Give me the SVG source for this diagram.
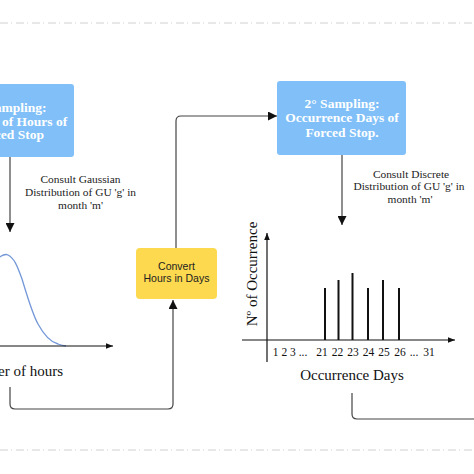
<svg xmlns="http://www.w3.org/2000/svg" width="474" height="474" viewBox="0 0 474 474">
<style>
.box{fill:#80bff8;}
.bt{font-family:"Liberation Serif",serif;font-weight:bold;font-size:13.5px;fill:#fff;text-anchor:middle;}
.lbl{font-family:"Liberation Serif",serif;font-size:11.4px;fill:#222;text-anchor:middle;}
.ax{font-family:"Liberation Serif",serif;font-size:15px;fill:#111;}
.tk{font-family:"Liberation Serif",serif;font-size:11.5px;fill:#111;text-anchor:middle;}
.con{fill:none;stroke:#444;stroke-width:1.2;}
.axl{stroke:#111;stroke-width:1.2;fill:none;}
.bar{stroke:#111;stroke-width:2;}
.dash{stroke:#d0d0d0;stroke-width:1;stroke-dasharray:8 3 1 4;fill:none;}
</style>
<defs>
<marker id="ah" viewBox="0 0 10 10" refX="10" refY="5" markerWidth="9" markerHeight="9" markerUnits="userSpaceOnUse" orient="auto">
<path d="M0,0 L10,5 L0,10 z" fill="#111"/>
</marker>
<marker id="ahs" viewBox="0 0 10 10" refX="10" refY="5" markerWidth="7" markerHeight="7" markerUnits="userSpaceOnUse" orient="auto">
<path d="M0,1 L10,5 L0,9 z" fill="#111"/>
</marker>
</defs>
<rect width="474" height="474" fill="#fff"/>
<g id="frame">
<line class="dash" x1="0" y1="23" x2="474" y2="23"/>
<line class="dash" x1="0" y1="450" x2="474" y2="450"/>
</g>
<g id="connectors">
<line class="con" x1="10" y1="157" x2="10" y2="232" marker-end="url(#ah)"/>
<line class="con" x1="342" y1="155" x2="342" y2="225" marker-end="url(#ah)"/>
<path class="con" d="M10,387 L10,404 Q10,409 15,409 L168,409 Q173,409 173,404 L173,300" marker-end="url(#ah)"/>
<path class="con" d="M176,248 L176,121 Q176,116 181,116 L277,116" marker-end="url(#ah)"/>
<path class="con" d="M352,393 L352,414 Q352,419 357,419 L474,419"/>
</g>
<g id="node-sampling1">
<rect class="box" x="-56" y="84" width="130" height="73" rx="3"/>
<text class="bt" x="9" y="112">1° Sampling:</text>
<text class="bt" x="9" y="125.5">Number of Hours of</text>
<text class="bt" x="9" y="139">Forced Stop</text>
</g>
<g id="label-gaussian">
<text class="lbl" x="80.5" y="182.5">Consult Gaussian</text>
<text class="lbl" x="80.5" y="195.5">Distribution of GU 'g' in</text>
<text class="lbl" x="80.5" y="208.5">month 'm'</text>
</g>
<g id="chart-gaussian">
<path d="M-2,258 C2,256 4,253 8,255 C14,258 17,265 22,279 C27,295 32,313 38,324 C44,335 50,342 58,344 C61,345 63,345.5 66,346" fill="none" stroke="#7397d8" stroke-width="1.3"/>
<line class="axl" x1="0" y1="346" x2="113" y2="346" marker-end="url(#ahs)"/>
<text class="ax" x="63" y="376" text-anchor="end">Number of hours</text>
</g>
<g id="node-convert">
<rect x="136" y="248" width="81" height="51" rx="4" fill="#fcd94e"/>
<text x="176.5" y="270" font-family="Liberation Sans,Arial,sans-serif" font-size="10.5" fill="#222" text-anchor="middle">Convert</text>
<text x="176.5" y="282" font-family="Liberation Sans,Arial,sans-serif" font-size="10.5" fill="#222" text-anchor="middle">Hours in Days</text>
</g>
<g id="node-sampling2">
<rect class="box" x="277" y="81" width="129" height="74" rx="3"/>
<text class="bt" x="342" y="107.5">2°  Sampling:</text>
<text class="bt" x="342" y="122">Occurrence Days of</text>
<text class="bt" x="342" y="136.5">Forced Stop.</text>
</g>
<g id="label-discrete">
<text class="lbl" x="411" y="177.5" font-size="10.8">Consult Discrete</text>
<text class="lbl" x="409" y="190" font-size="10.8">Distribution of GU 'g' in</text>
<text class="lbl" x="410" y="202.5" font-size="10.8">month 'm'</text>
</g>
<g id="chart-discrete">
<line class="axl" x1="267" y1="362" x2="267" y2="233" marker-end="url(#ahs)"/>
<line class="axl" x1="242" y1="340" x2="455" y2="340" marker-end="url(#ahs)"/>
<line class="bar" x1="325" y1="340" x2="325" y2="288"/>
<line class="bar" x1="338.5" y1="340" x2="338.5" y2="280"/>
<line class="bar" x1="352.5" y1="340" x2="352.5" y2="273"/>
<line class="bar" x1="368" y1="340" x2="368" y2="288"/>
<line class="bar" x1="383" y1="340" x2="383" y2="280"/>
<line class="bar" x1="399" y1="340" x2="399" y2="288"/>
<text class="tk" x="290" y="356">1 2 3 ...</text>
<text class="tk" x="322" y="356">21</text>
<text class="tk" x="337.5" y="356">22</text>
<text class="tk" x="353" y="356">23</text>
<text class="tk" x="368.5" y="356">24</text>
<text class="tk" x="384" y="356">25</text>
<text class="tk" x="400" y="356">26</text>
<text class="tk" x="414" y="356">...</text>
<text class="tk" x="429" y="356">31</text>
<text class="ax" x="352" y="380" text-anchor="middle">Occurrence Days</text>
<text class="ax" transform="translate(257,274) rotate(-90)" text-anchor="middle">Nº of Occurrence</text>
</g>
</svg>
